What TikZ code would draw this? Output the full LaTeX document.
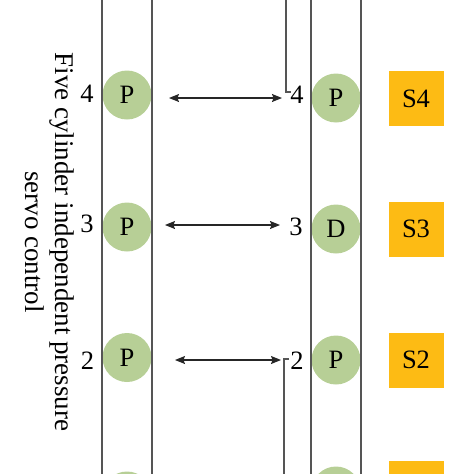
\documentclass[tikz,border=0pt]{standalone}
\usepackage{fontspec}
\setmainfont{Liberation Serif}
\usetikzlibrary{arrows.meta}
\definecolor{cgreen}{HTML}{B7CF96}
\definecolor{corange}{HTML}{FDBB14}
\definecolor{cline}{HTML}{555555}
\begin{document}
\begin{tikzpicture}[x=1pt,y=-1pt,
  font=\fontsize{26.5}{28}\selectfont,
  valve/.style={circle, fill=cgreen, minimum size=49pt, inner sep=0pt},
  sbox/.style={fill=corange, minimum size=55pt, inner sep=0pt},
  rail/.style={cline, line width=1.4pt},
  wire/.style={cline, line width=1.4pt},
  link/.style={{Stealth[length=10pt,width=8pt,inset=1.5pt]}-{Stealth[length=10pt,width=8pt,inset=1.5pt]}, line width=1.1pt, black!85},
  num/.style={inner sep=0pt},
  vtext/.style={rotate=-90, anchor=base, inner sep=0pt, font=\fontsize{27}{28}\selectfont}]
\useasboundingbox (0,0) rectangle (474,474);
% valves
\node[valve] (L4) at (127,95) {P};
\node[valve] (L3) at (127,227) {P};
\node[valve] (L2) at (127,357.5) {P};
\node[valve] (L1) at (127,496) {};
\node[valve] (R4) at (336,98) {P};
\node[valve] (R3) at (336,229) {D};
\node[valve] (R2) at (336,360) {P};
\node[valve] (R1) at (336,491) {};
% rails
\coordinate (ra1) at (102,0); \coordinate (rb1) at (102,474);
\coordinate (ra2) at (152,0); \coordinate (rb2) at (152,474);
\coordinate (ra3) at (311,0); \coordinate (rb3) at (311,474);
\coordinate (ra4) at (361,0); \coordinate (rb4) at (361,474);
\draw[rail] (ra1) -- (rb1);
\draw[rail] (ra2) -- (rb2);
\draw[rail] (ra3) -- (rb3);
\draw[rail] (ra4) -- (rb4);
% squares
\node[sbox] (S4) at (416,98.5) {S4};
\node[sbox] (S3) at (416,229) {S3};
\node[sbox] (S2) at (416,360) {S2};
\node[sbox] (S1) at (416,488.5) {};
% numbers
\node[num] (l4) at (87,94) {4};
\node[num] (l3) at (87,224) {3};
\node[num] (l2) at (87.5,361) {2};
\node[num] (r4) at (297,95) {4};
\node[num] (r3) at (296,227) {3};
\node[num] (r2) at (297,361) {2};
% wires
\coordinate (w4a) at (286,0); \coordinate (w4b) at (291,92);
\draw[wire] (w4a) |- (w4b);
\coordinate (w2a) at (284,474); \coordinate (w2b) at (289,359);
\draw[wire] (w2b) -| (w2a);
% arrows
\coordinate (a4) at (169,98); \coordinate (b4) at (282,98);
\coordinate (a3) at (165,225); \coordinate (b3) at (280,225);
\coordinate (a2) at (175,360); \coordinate (b2) at (281,360);
\draw[link] (a4) -- (b4);
\draw[link] (a3) -- (b3);
\draw[link] (a2) -- (b2);
% rotated caption
\node[vtext] (t1) at (55,242) {Five cylinder independent pressure};
\node[vtext] (t2) at (25.5,242) {servo control};
\end{tikzpicture}
\end{document}
